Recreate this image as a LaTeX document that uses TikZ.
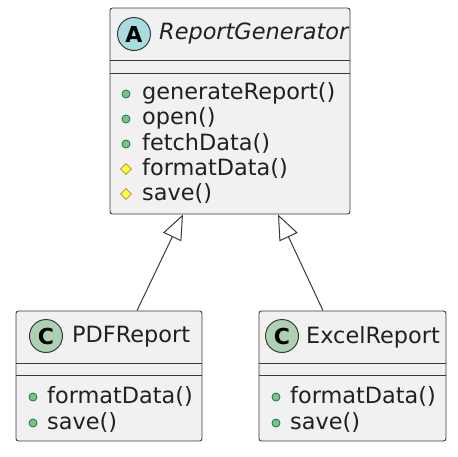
\documentclass[tikz,border=0pt]{standalone}
\usepackage{fontspec}
\setmainfont{DejaVu Sans}
\usetikzlibrary{arrows.meta,shapes.geometric,calc}
\definecolor{bd}{HTML}{3A3A3A}
\definecolor{bg}{HTML}{F1F1F1}
\definecolor{txt}{HTML}{202020}
\definecolor{pubf}{HTML}{84BE84}
\definecolor{pubd}{HTML}{038048}
\definecolor{protf}{HTML}{FFFF44}
\definecolor{protd}{HTML}{B38D22}
\definecolor{absf}{HTML}{A9DCDF}
\definecolor{clsf}{HTML}{ADD1B2}
\begin{document}
\begin{tikzpicture}[x=1pt,y=-1pt,
 box/.style={draw=bd, fill=bg, rounded corners=2.5pt, line width=0.9pt, inner sep=0},
 lbl/.style={anchor=west, inner sep=0, text=txt, font=\fontsize{22.4}{25}\selectfont},
 pub/.style={circle, draw=pubd, fill=pubf, minimum size=8pt, inner sep=0, line width=0.8pt},
 prot/.style={diamond, draw=protd, fill=protf, minimum size=11pt, inner sep=0, line width=0.8pt},
 ico/.style={circle, draw=bd, line width=1pt, minimum size=33pt, inner sep=0, font=\fontsize{22}{22}\selectfont\bfseries},
 sep/.style={draw=bd, line width=0.9pt},
 inh/.style={draw=bd, line width=1pt, -{Triangle[open, length=25pt, width=20pt, fill=white]}}
]
\useasboundingbox (0,0) rectangle (458,456);
% top class
\node[box, minimum width=240pt, minimum height=206pt] (gen) at (230,111) {};
\draw[sep] (110,60) -- (350,60);
\draw[sep] (110,73) -- (350,73);
\node[ico, fill=absf] (genI) at (134,34) {A};
\node[lbl, font=\fontsize{22.4}{25}\selectfont\itshape] (genN) at (159,34) {ReportGenerator};
\node[pub] (g1i) at (126,94) {}; \node[lbl] (g1) at (142,93) {generateReport()};
\node[pub] (g2i) at (126,119) {}; \node[lbl] (g2) at (142,118) {open()};
\node[pub] (g3i) at (126,144) {}; \node[lbl] (g3) at (142,143) {fetchData()};
\node[prot] (g4i) at (126,169) {}; \node[lbl] (g4) at (142,168) {formatData()};
\node[prot] (g5i) at (126,194) {}; \node[lbl] (g5) at (142,193) {save()};
% PDF
\node[box, minimum width=186pt, minimum height=130pt] (pdf) at (109,376) {};
\draw[sep] (16,363) -- (202,363);
\draw[sep] (16,375) -- (202,375);
\node[ico, fill=clsf] (pdfI) at (46,336) {C};
\node[lbl] (pdfN) at (72,337) {PDFReport};
\node[pub] (p1i) at (33,397) {}; \node[lbl] (p1) at (47,396) {formatData()};
\node[pub] (p2i) at (33,423) {}; \node[lbl] (p2) at (47,422) {save()};
% Excel
\node[box, minimum width=187pt, minimum height=130pt] (xls) at (352.5,376) {};
\draw[sep] (259,363) -- (446,363);
\draw[sep] (259,375) -- (446,375);
\node[ico, fill=clsf] (xlsI) at (282,336) {C};
\node[lbl] (xlsN) at (306,337) {ExcelReport};
\node[pub] (x1i) at (276,397) {}; \node[lbl] (x1) at (290,396) {formatData()};
\node[pub] (x2i) at (276,423) {}; \node[lbl] (x2) at (290,422) {save()};
% inheritance
\draw[inh] ($(pdf.north)+(28,0)$) -- ($(gen.south)+(-47,0)$);
\draw[inh] ($(xls.north)+(-29.5,0)$) -- ($(gen.south)+(48,0)$);
\end{tikzpicture}
\end{document}
